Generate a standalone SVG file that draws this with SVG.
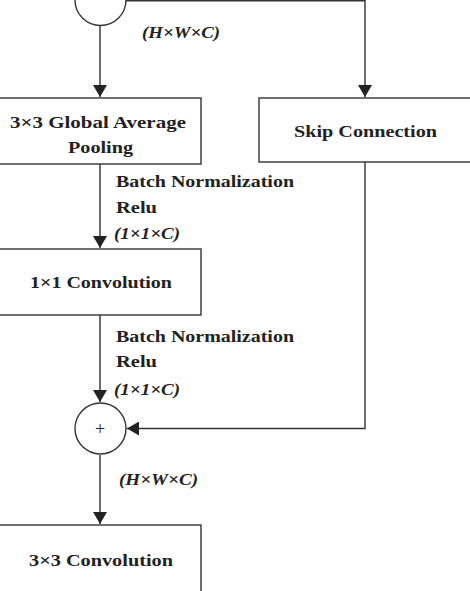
<svg xmlns="http://www.w3.org/2000/svg" width="470" height="591" viewBox="0 0 470 591">
<style>
.box{fill:#fff;stroke:#333;stroke-width:1.4}
.ln{fill:none;stroke:#333;stroke-width:1.4}
.t{font-family:"Liberation Serif","Times New Roman",serif;font-weight:bold;font-size:17.5px;fill:#222}
.i{font-style:italic}
</style>
<defs>
<marker id="ah" viewBox="0 0 12 14" refX="12" refY="7" markerWidth="12" markerHeight="14" markerUnits="userSpaceOnUse" orient="auto">
<path d="M0,0 L12,7 L0,14 Z" fill="#222"/>
</marker>
</defs>
<rect width="470" height="591" fill="#fff"/>
<g id="connectors">
<path class="ln" d="M126,0.7 H365 V97" marker-end="url(#ah)"/>
<path class="ln" d="M100,26 V97" marker-end="url(#ah)"/>
<path class="ln" d="M100,164 V248" marker-end="url(#ah)"/>
<path class="ln" d="M100,315 V402" marker-end="url(#ah)"/>
<path class="ln" d="M365,162 V428.5 H127" marker-end="url(#ah)"/>
<path class="ln" d="M100,455 V524" marker-end="url(#ah)"/>
<text class="t i" x="142" y="38" textLength="78" lengthAdjust="spacingAndGlyphs">(H×W×C)</text>
<text class="t" x="116" y="187" textLength="178" lengthAdjust="spacingAndGlyphs">Batch Normalization</text>
<text class="t" x="116" y="213" textLength="41" lengthAdjust="spacingAndGlyphs">Relu</text>
<text class="t i" x="114" y="239" textLength="66" lengthAdjust="spacingAndGlyphs">(1×1×C)</text>
<text class="t" x="116" y="342" textLength="178" lengthAdjust="spacingAndGlyphs">Batch Normalization</text>
<text class="t" x="116" y="367" textLength="41" lengthAdjust="spacingAndGlyphs">Relu</text>
<text class="t i" x="114" y="395" textLength="66" lengthAdjust="spacingAndGlyphs">(1×1×C)</text>
<text class="t i" x="119" y="485" textLength="79" lengthAdjust="spacingAndGlyphs">(H×W×C)</text>
</g>
<g id="input">
<circle class="box" cx="100.5" cy="0" r="25.5"/>
</g>
<g id="gap">
<rect class="box" x="-2" y="98" width="203" height="66"/>
<text class="t" x="10" y="128" textLength="176" lengthAdjust="spacingAndGlyphs">3×3 Global Average</text>
<text class="t" x="68" y="153" textLength="65" lengthAdjust="spacingAndGlyphs">Pooling</text>
</g>
<g id="skip">
<rect class="box" x="259" y="98" width="220" height="64"/>
<text class="t" x="294" y="137" textLength="143" lengthAdjust="spacingAndGlyphs">Skip Connection</text>
</g>
<g id="conv1">
<rect class="box" x="-2" y="249" width="203" height="66"/>
<text class="t" x="30" y="288" textLength="142" lengthAdjust="spacingAndGlyphs">1×1 Convolution</text>
</g>
<g id="add">
<circle class="box" cx="100.5" cy="428.5" r="25.5"/>
<text x="100" y="435" text-anchor="middle" font-family="Liberation Serif, serif" font-size="18" fill="#222">+</text>
</g>
<g id="conv3">
<rect class="box" x="-2" y="525" width="203" height="80"/>
<text class="t" x="29" y="566" textLength="144" lengthAdjust="spacingAndGlyphs">3×3 Convolution</text>
</g>
</svg>
